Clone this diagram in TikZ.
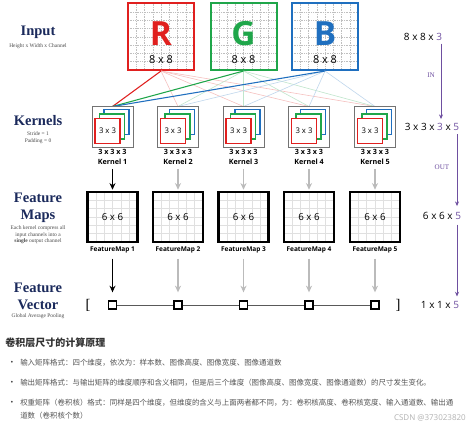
\documentclass[tikz,border=0pt]{standalone}
\usepackage{fontspec}
\setmainfont{Liberation Serif}
\newfontfamily\sansf{Open Sans}
\newfontfamily\cjk{Noto Sans CJK SC}
\usetikzlibrary{arrows.meta}
\definecolor{navy}{HTML}{1B2A5C}
\definecolor{cr}{HTML}{E0201F}
\definecolor{cg}{HTML}{1FA64A}
\definecolor{cb}{HTML}{1F6FBF}
\definecolor{pur}{HTML}{6E4FA0}
\definecolor{txt}{HTML}{555555}
\definecolor{arrgray}{HTML}{BBBBBB}
\begin{document}
\begin{tikzpicture}[x=0.75pt,y=-0.75pt,
  head/.style={font=\bfseries\fontsize{10.9}{12.75}\selectfont, text=navy, align=center, inner sep=0pt},
  sub/.style={font=\fontsize{4.1}{5}\selectfont, text=black!70, align=center, inner sep=0pt},
  inbox/.style={draw=#1, line width=1.5pt, minimum width=49.5pt, minimum height=50.25pt, inner sep=0pt},
  kbox/.style={draw=black!55, line width=0.6pt, fill=white, minimum size=30.75pt, inner sep=0pt},
  ksq/.style={draw=#1, line width=1.1pt, fill=white, minimum size=18.75pt, inner sep=0pt, font=\sansf\fontsize{5.8}{6}\selectfont},
  klab/.style={font=\sansf\bfseries\fontsize{5.4}{7.5}\selectfont, align=center, inner sep=0pt},
  fmap/.style={draw=black, line width=1.8pt, minimum size=37.5pt, inner sep=0pt, font=\sansf\fontsize{7.3}{8}\selectfont},
  flab/.style={font=\sansf\bfseries\fontsize{4.9}{6}\selectfont, inner sep=0pt},
  vsq/.style={draw=black, line width=1pt, fill=white, minimum size=6pt, inner sep=0pt},
  dimt/.style={font=\sansf\fontsize{7.5}{8}\selectfont, inner sep=0pt},
  parr/.style={draw=pur, line width=0.7pt, -{Stealth[length=3.5pt,width=3pt]}},
  plab/.style={font=\fontsize{5.3}{6}\selectfont, text=pur, inner sep=0pt},
  darr/.style={line width=1.1pt, -{Stealth[length=5pt,width=4.5pt]}},
  cjkt/.style={font=\cjk\fontsize{5.6}{7}\selectfont, text=txt, anchor=west, inner sep=0pt},
  bul/.style={font=\cjk\fontsize{6.5}{7}\selectfont, text=txt!80!black, inner sep=0pt}
]
\useasboundingbox (0,0) rectangle (474,426);
\fill[white] (0,0) rectangle (474,426);

% left headings
\node[head] (hin) at (38,32) {Input};
\node[sub] (hins) at (38,46) {Height x Width x Channel};
\node[head] (hk) at (38,121) {Kernels};
\node[sub] (hks) at (38,137.5) {Stride = 1\\Padding = 0};
\node[head] (hf) at (38,207.5) {Feature\\Maps};
\node[sub] (hfs) at (38,235) {Each kernel compress all\\input channels into a\\\textbf{single} output channel};
\node[head] (hv) at (38,296.5) {Feature\\Vector};
\node[sub] (hvs) at (38,316) {Global Average Pooling};

% input grids
\foreach \cx in {161,243.5,325} {
  \foreach \i in {1,...,7} {
    \draw[black!25, line width=0.3pt, densely dotted] (\cx-33+\i*8.25, 3.5) -- ++(0,66.5);
    \draw[black!25, line width=0.3pt, densely dotted] (\cx-33, 3.5+\i*8.3) -- ++(66,0);
  }
}
\node[inbox=cr] (R) at (161,36.5) {};
\node[inbox=cg] (G) at (243.5,36.5) {};
\node[inbox=cb] (B) at (325,36.5) {};
\foreach \s/\c/\cx in {R/cr/161,G/cg/243.5,B/cb/325} {
  \node[font=\sansf\bfseries\fontsize{25}{25}\selectfont, text=\c, inner sep=0pt] (\s l) at (\cx,34) {\s};
  \node[font=\sansf\fontsize{8.2}{9}\selectfont, inner sep=0pt] (\s d) at (\cx,60) {8 x 8};
}

% kernel positions (as coordinates), lines first
\foreach \k/\x in {1/112.5,2/178,3/243.5,4/309,5/375} {
  \coordinate (kc\k) at (\x,106.5);
}
\foreach \s/\c in {R/cr,G/cg,B/cb} {
  \foreach \k in {2,...,5} {
    \draw[\c!28, line width=0.45pt] (\s.south) -- (kc\k);
  }
}
\foreach \s/\c in {R/cr,G/cg,B/cb} {
  \draw[\c, line width=0.8pt] (\s.south) -- (kc1);
}

\foreach \k/\x in {1/112.5,2/178,3/243.5,4/309,5/375} {
  \node[kbox] (k\k) at (\x,127) {};
  \node[ksq=cb] (kb\k) at (\x+4,122) {};
  \node[ksq=cg] (kg\k) at (\x-0.5,126.5) {};
  \node[ksq=cr] (kr\k) at (\x-5,131) {3 x 3};
  \node[klab] (kl\k) at (\x,157) {3 x 3 x 3\\Kernel \k};
  % feature map grid
  \foreach \i in {1,...,5} {
    \draw[black!12, line width=0.4pt] (\x-25+\i*8.333, 192) -- ++(0,50);
    \draw[black!12, line width=0.4pt] (\x-25, 192+\i*8.333) -- ++(50,0);
  }
  \node[fmap] (m\k) at (\x,217) {6 x 6};
  \node[flab] (ml\k) at (\x,250) {FeatureMap \k};
  \node[vsq] (v\k) at (\x,305) {};
}
\draw[darr, black, shorten <=3pt, shorten >=0.8pt] (kl1.south) -- (m1.north);
\draw[darr, black, shorten <=4pt, shorten >=6pt] (ml1.south) -- (v1.north);
\foreach \k in {2,...,5} {
  \draw[darr, arrgray, shorten <=3pt, shorten >=0.8pt] (kl\k.south) -- (m\k.north);
  \draw[darr, arrgray, shorten <=4pt, shorten >=6pt] (ml\k.south) -- (v\k.north);
}
\draw[black!65, line width=0.5pt] (v1) -- (v2);
\draw[black!65, line width=0.5pt] (v2) -- (v3);
\draw[black!65, line width=0.5pt] (v3) -- (v4);
\draw[black!65, line width=0.5pt] (v4) -- (v5);
\node[font=\fontsize{11}{11}\selectfont, inner sep=0pt] (lb) at (88,305) {[};
\node[font=\fontsize{11}{11}\selectfont, inner sep=0pt] (rb) at (398,305) {]};

% right dimension column
\node[dimt] (d1) at (423,37) {8 x 8 x \textcolor{pur}{3}};
\node[dimt] (d2) at (432,127) {3 x 3 x \textcolor{pur}{3} x \textcolor{pur}{5}};
\node[dimt] (d3) at (442,216) {6 x 6 x \textcolor{pur}{5}};
\node[dimt] (d4) at (440,305) {1 x 1 x \textcolor{pur}{5}};
\draw[parr, shorten <=2pt, shorten >=3pt] (d1.south -| 441,0) -- (d2.north -| 441,0);
\draw[parr, shorten <=2.5pt, shorten >=4.5pt] (d2.south -| 457,0) -- (d3.north -| 457,0);
\draw[parr, shorten <=3.5pt, shorten >=3.5pt] (d3.south -| 457,0) -- (d4.north -| 457,0);
\node[plab] (lin) at (431,75) {IN};
\node[plab] (lout) at (442,167) {OUT};

% bottom text
\node[font=\cjk\bfseries\fontsize{7.5}{8}\selectfont, text=black!80, anchor=west, inner sep=0pt] (t0) at (5,343) {卷积层尺寸的计算原理};
\node[bul] (b1) at (12,363) {•};
\node[cjkt] (t1) at (20,363) {输入矩阵格式：四个维度，依次为：样本数、图像高度、图像宽度、图像通道数};
\node[bul] (b2) at (12,383) {•};
\node[cjkt] (t2) at (20,383) {输出矩阵格式：与输出矩阵的维度顺序和含义相同，但是后三个维度（图像高度、图像宽度、图像通道数）的尺寸发生变化。};
\node[bul] (b3) at (12,403) {•};
\node[cjkt] (t3) at (20,403) {权重矩阵（卷积核）格式：同样是四个维度，但维度的含义与上面两者都不同，为：卷积核高度、卷积核宽度、输入通道数、输出通};
\node[cjkt] (t4) at (20,416) {道数（卷积核个数）};
\node[font=\sansf\fontsize{6}{7}\selectfont, text=black!30, anchor=east, inner sep=0pt] (wm) at (466,418) {CSDN @373023820};
\end{tikzpicture}
\end{document}
